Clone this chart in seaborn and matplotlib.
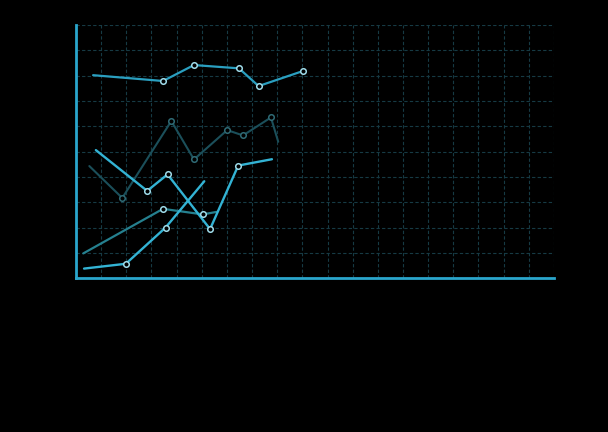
import matplotlib
matplotlib.use("Agg")
import matplotlib.pyplot as plt
import seaborn as sns
import pandas as pd

# Series (grid units: 19 columns x 10 rows)
top_x = [0.68, 3.46, 4.69, 6.48, 7.26, 9.01]
top_y = [8.02, 7.79, 8.42, 8.29, 7.59, 8.18]
top_m = [0, 1, 1, 1, 1, 1]

dark_x = [0.53, 1.84, 3.79, 4.69, 6.01, 6.64, 7.75, 8.04]
dark_y = [4.43, 3.17, 6.21, 4.69, 5.85, 5.64, 6.35, 5.39]
dark_m = [0, 1, 1, 1, 1, 1, 1, 0]

mid_x = [0.79, 2.83, 3.64, 5.33, 6.45, 7.79]
mid_y = [5.06, 3.45, 4.10, 1.94, 4.45, 4.70]
mid_m = [0, 1, 1, 1, 1, 0]

teal_x = [0.29, 3.46, 5.04, 5.59]
teal_y = [0.98, 2.74, 2.52, 2.62]
teal_m = [0, 1, 1, 0]

low_x = [0.32, 1.98, 3.56, 5.10]
low_y = [0.38, 0.57, 2.00, 3.83]
low_m = [0, 1, 1, 0]

series = [
    (top_x, top_y, top_m, "#2a9fc0", 1.6),
    (dark_x, dark_y, dark_m, "#1b4f5a", 1.5),
    (teal_x, teal_y, teal_m, "#25808f", 1.6),
    (mid_x, mid_y, mid_m, "#33b3d4", 1.7),
    (low_x, low_y, low_m, "#33b3d4", 1.7),
]

sns.set_style("dark")
fig = plt.figure(figsize=(6.08, 4.32), dpi=100, facecolor="black")
ax = fig.add_axes([0.125, 0.356, 0.786, 0.586])
ax.set_facecolor("black")

for xs, ys, ms, color, lw in series:
    df = pd.DataFrame({"x": xs, "y": ys, "m": ms})
    sns.lineplot(data=df, x="x", y="y", sort=False, color=color, linewidth=lw, ax=ax)
    pts = df[df["m"] == 1]
    edge = "#9fdcea" if color != "#1b4f5a" else "#2f6a75"
    sns.scatterplot(data=pts, x="x", y="y", ax=ax, s=16, facecolor="black",
                    edgecolor=edge, linewidth=1.1, zorder=3)

ax.set_xlim(0, 19)
ax.set_ylim(0, 10)
ax.set_xticks(range(20))
ax.set_yticks(range(11))
ax.tick_params(length=0, labelbottom=False, labelleft=False)
ax.set_xlabel("")
ax.set_ylabel("")
ax.grid(True, color="#163a44", linestyle=(0, (3, 2)), linewidth=0.8)
for side in ["top", "right"]:
    ax.spines[side].set_visible(False)
for side in ["left", "bottom"]:
    ax.spines[side].set_color("#2aa6cc")
    ax.spines[side].set_linewidth(2)

fig.savefig("out.png", dpi=100, facecolor="black")
